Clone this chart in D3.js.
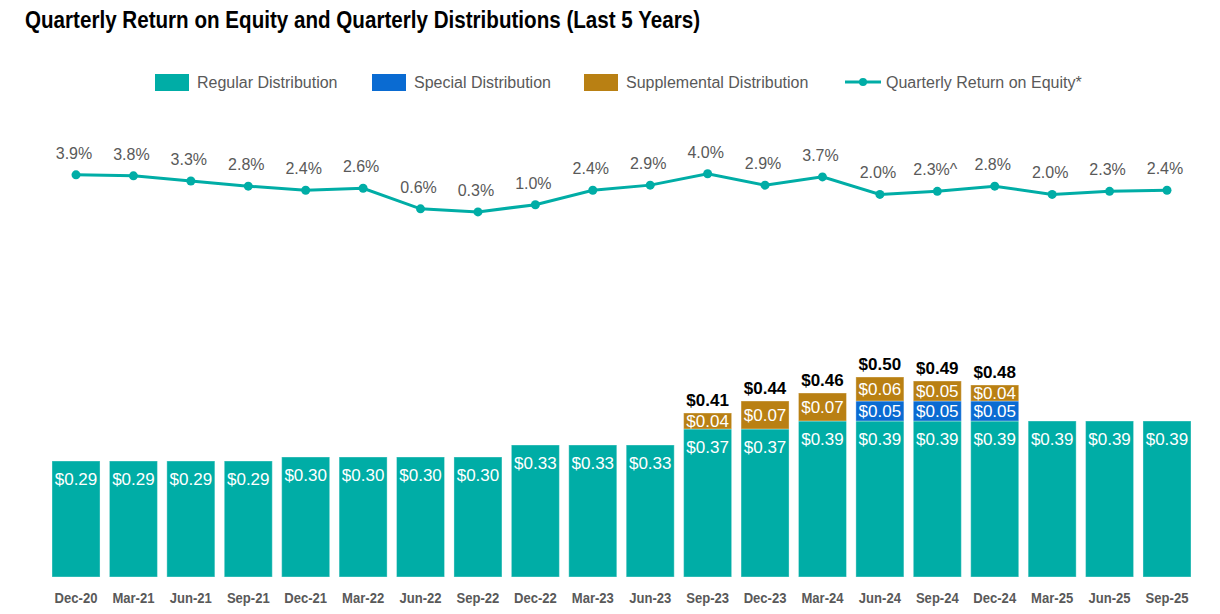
<!DOCTYPE html>
<html>
<head>
<meta charset="utf-8">
<script src="https://cdn.jsdelivr.net/npm/d3@7"></script>
<style>
  body { margin: 0; background: #fff; }
  svg { display: block; font-family: "Liberation Sans", Arial, sans-serif; }
</style>
</head>
<body>
<svg id="chart" width="1220" height="614"></svg>
<script>
const quarters = ["Dec-20", "Mar-21", "Jun-21", "Sep-21", "Dec-21", "Mar-22", "Jun-22", "Sep-22",
  "Dec-22", "Mar-23", "Jun-23", "Sep-23", "Dec-23", "Mar-24", "Jun-24", "Sep-24",
  "Dec-24", "Mar-25", "Jun-25", "Sep-25"];
const regular = [0.29, 0.29, 0.29, 0.29, 0.30, 0.30, 0.30, 0.30, 0.33, 0.33, 0.33, 0.37, 0.37, 0.39, 0.39, 0.39, 0.39, 0.39, 0.39, 0.39];
const special = [0, 0, 0, 0, 0, 0, 0, 0, 0, 0, 0, 0, 0, 0, 0.05, 0.05, 0.05, 0, 0, 0];
const supplemental = [0, 0, 0, 0, 0, 0, 0, 0, 0, 0, 0, 0.04, 0.07, 0.07, 0.06, 0.05, 0.04, 0, 0, 0];
const roe = [3.9, 3.8, 3.3, 2.8, 2.4, 2.6, 0.6, 0.3, 1.0, 2.4, 2.9, 4.0, 2.9, 3.7, 2.0, 2.3, 2.8, 2.0, 2.3, 2.4];
const roeNotes = ["", "", "", "", "", "", "", "", "", "", "", "", "", "", "", "^", "", "", "", ""];
const seriesNames = ["Regular Distribution", "Special Distribution", "Supplemental Distribution"];
const lineName = "Quarterly Return on Equity*";

const teal = "#00ada6", blue = "#0a6bd2", gold = "#b98013";
const colors = [teal, blue, gold];

const svg = d3.select("#chart");

// squeeze text a little so it looks like the condensed font of the original
function condense(sel, k) {
  sel.each(function() {
    const len = this.getComputedTextLength();
    d3.select(this).attr("textLength", len * k).attr("lengthAdjust", "spacingAndGlyphs");
  });
}

// Title
svg.append("text")
  .attr("x", 25).attr("y", 28)
  .style("font-weight", "bold")
  .style("font-size", "23px")
  .attr("fill", "#000")
  .text("Quarterly Return on Equity and Quarterly Distributions (Last 5 Years)")
  .attr("textLength", 675)
  .attr("lengthAdjust", "spacingAndGlyphs");

// Legend
const legend = svg.append("g").attr("transform", "translate(0, 82)");
const legendX = [155, 372, 584];
seriesNames.forEach((name, i) => {
  legend.append("rect")
    .attr("x", legendX[i]).attr("y", -8)
    .attr("width", 34).attr("height", 17)
    .attr("fill", colors[i]);
  legend.append("text")
    .attr("x", legendX[i] + 42).attr("y", 6)
    .style("font-size", "16px")
    .attr("fill", "#595959")
    .text(name);
});
legend.append("line")
  .attr("x1", 845).attr("x2", 881).attr("y1", 0).attr("y2", 0)
  .attr("stroke", teal).attr("stroke-width", 3);
legend.append("circle").attr("cx", 863).attr("cy", 0).attr("r", 4).attr("fill", teal);
legend.append("text")
  .attr("x", 886).attr("y", 6)
  .style("font-size", "16px")
  .attr("fill", "#595959")
  .text(lineName);

// Scales
const x = d3.scaleBand()
  .domain(quarters)
  .range([47.3, 1195.7])
  .paddingInner(0.164)
  .paddingOuter(0.082);

const y = d3.scaleLinear().domain([0, 0.5]).range([577, 377]);
const yRoe = d3.scaleLinear().domain([0, 4]).range([215, 173.8]);

// Stacked bars
const rows = quarters.map((q, i) => ({
  quarter: q, regular: regular[i], special: special[i], supplemental: supplemental[i]
}));
const keys = ["regular", "special", "supplemental"];
const stack = d3.stack().keys(keys)(rows);

const bars = svg.append("g");
stack.forEach((layer, li) => {
  const g = bars.append("g").attr("fill", colors[li]);
  layer.forEach(d => {
    const val = d[1] - d[0];
    if (val <= 0) return;
    const top = y(d[1]), bottom = y(d[0]);
    const xc = x(d.data.quarter) + x.bandwidth() / 2;
    g.append("rect")
      .attr("x", x(d.data.quarter))
      .attr("y", top)
      .attr("width", x.bandwidth())
      .attr("height", bottom - top)
      .attr("stroke", "rgba(255,255,255,0.35)")
      .attr("stroke-width", 1);
    const h = bottom - top;
    const cy = h < 36 ? top + h / 2 : top + 18;
    bars.append("text")
      .attr("x", xc).attr("y", cy)
      .attr("dy", "0.36em")
      .attr("text-anchor", "middle")
      .style("font-size", "17px")
      .attr("fill", "#fff")
      .text("$" + val.toFixed(2));
  });
});

// Totals above stacks that have extra distributions
rows.forEach((r, i) => {
  if (special[i] + supplemental[i] <= 0) return;
  const total = r.regular + r.special + r.supplemental;
  svg.append("text")
    .attr("x", x(r.quarter) + x.bandwidth() / 2)
    .attr("y", y(total) - 7)
    .attr("text-anchor", "middle")
    .style("font-size", "17px")
    .style("font-weight", "bold")
    .attr("fill", "#000")
    .text("$" + total.toFixed(2));
});

// X axis labels
const xAxis = d3.axisBottom(x).tickSize(0).tickPadding(0);
svg.append("g")
  .attr("transform", "translate(0, 590)")
  .call(xAxis)
  .call(g => g.select(".domain").remove())
  .call(g => g.selectAll("text")
    .attr("dy", "0.9em")
    .style("font-family", "'Liberation Sans', sans-serif")
    .style("font-size", "14.5px")
    .style("font-weight", "bold")
    .attr("fill", "#595959")
    .call(condense, 0.9));

// ROE line
const cx = q => x(q) + x.bandwidth() / 2;
const line = d3.line()
  .x((d, i) => cx(quarters[i]))
  .y(d => yRoe(d));

svg.append("path")
  .datum(roe)
  .attr("d", line)
  .attr("fill", "none")
  .attr("stroke", teal)
  .attr("stroke-width", 3);

svg.append("g").selectAll("circle")
  .data(roe)
  .join("circle")
  .attr("cx", (d, i) => cx(quarters[i]))
  .attr("cy", d => yRoe(d))
  .attr("r", 4.5)
  .attr("fill", teal);

svg.append("g").selectAll("text")
  .data(roe)
  .join("text")
  .attr("x", (d, i) => cx(quarters[i]) - 2)
  .attr("y", d => yRoe(d) - 16)
  .attr("text-anchor", "middle")
  .style("font-size", "16px")
  .attr("fill", "#595959")
  .text((d, i) => d.toFixed(1) + "%" + roeNotes[i]);
</script>
</body>
</html>
